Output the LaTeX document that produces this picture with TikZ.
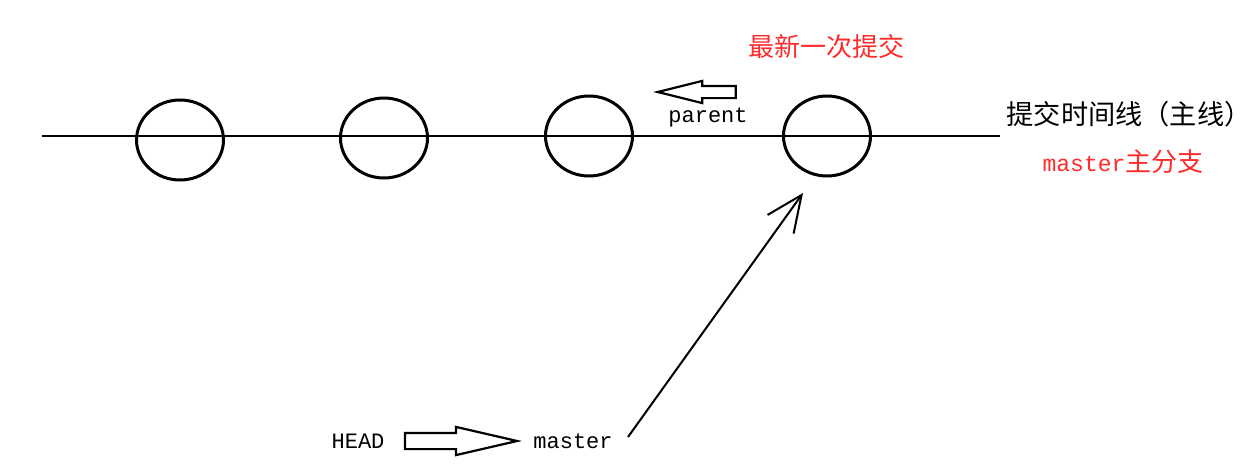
\documentclass[tikz,border=0pt]{standalone}
\usepackage{fontspec}
\usepackage{tikz}
\usetikzlibrary{arrows.meta,positioning,shapes.arrows,shapes.geometric}
\setmainfont{Liberation Mono}
\newfontfamily\cjk{Noto Sans CJK SC}
\definecolor{CommitRed}{HTML}{FF2A2A}

\begin{document}
\begin{tikzpicture}[x=0.5pt, y=-0.5pt,
    commit/.style={draw, line width=1.5pt, ellipse, minimum width=43.5pt, minimum height=40pt, inner sep=0pt},
    blockarrow/.style={draw, line width=1.1pt, single arrow, inner xsep=0pt},
    cjklabel/.style={font=\cjk\fontsize{13}{15}\selectfont},
    monolabel/.style={font=\fontsize{11}{13}\selectfont}]
    \useasboundingbox (0,0) rectangle (1253,471);

    % Timeline
    \coordinate (lineStart) at (42,136);
    \coordinate (lineEnd) at (1000,136);
    \draw[line width=1pt] (lineStart) -- (lineEnd);

    % Commits
    \node[commit] (c1) at (180,140) {};
    \node[commit] (c2) at (384,138) {};
    \node[commit] (c3) at (589,136) {};
    \node[commit] (c4) at (827,136) {};

    % Labels of the newest commit
    \node[cjklabel, text=CommitRed] (newest) at (826,47) {最新一次提交};
    \node[blockarrow, shape border rotate=180, minimum height=39pt, inner ysep=2.5pt, single arrow head extend=2.5pt, single arrow tip angle=28] (parentArrow) at (709,92) {};
    \node[monolabel] (parent) at (708,117) {parent};

    % Timeline labels
    \node[font=\cjk\fontsize{13.6}{15}\selectfont] (timeline) at (1129,114) {提交时间线（主线）};
    \node[font=\fontsize{11.5}{13}\selectfont, text=CommitRed] (branch) at (1123,162) {master{\cjk\fontsize{13}{15}\selectfont 主分支}};

    % HEAD -> master -> newest commit
    \node[monolabel] (head) at (358,441) {HEAD};
    \node[blockarrow, minimum height=56pt, inner ysep=3.5pt, single arrow head extend=3pt, single arrow tip angle=26] (headArrow) at (443.5,441) {};
    \node[monolabel] (master) at (573,441) {master};
    \coordinate (masterOut) at (628,437);
    \coordinate (c4In) at (803,193);
    \draw[-{Straight Barb[length=18pt, width=16pt]}, line width=1pt] (masterOut) -- (c4In);
\end{tikzpicture}
\end{document}
